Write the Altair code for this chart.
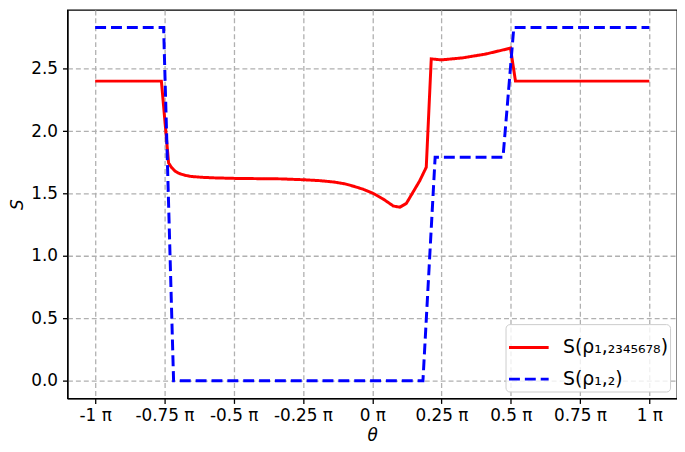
import altair as alt
import pandas as pd

# theta in units of pi
red_theta = [-1.0, -0.761, -0.735, -0.725, -0.712, -0.699, -0.675, -0.652, -0.61, -0.568,
             -0.497, -0.42, -0.33, -0.246, -0.19, -0.139, -0.1, -0.067, -0.03, 0.004, 0.04,
             0.076, 0.0995, 0.123, 0.171, 0.195, 0.213, 0.249, 0.326, 0.41, 0.499, 0.517, 1.0]
red_S = [2.40, 2.40, 1.745, 1.71, 1.68, 1.662, 1.645, 1.636, 1.629, 1.625,
         1.621, 1.619, 1.617, 1.61, 1.603, 1.592, 1.578, 1.558, 1.532, 1.50, 1.455,
         1.40, 1.39, 1.42, 1.60, 1.71, 2.578, 2.57, 2.586, 2.617, 2.664, 2.40, 2.40]

blue_theta = [-1.0, -0.753, -0.717, 0.183, 0.227, 0.472, 0.511, 1.0]
blue_S = [2.83, 2.83, 0.0, 0.0, 1.79, 1.79, 2.83, 2.83]

x_ticks = [-1, -0.75, -0.5, -0.25, 0, 0.25, 0.5, 0.75, 1]
y_ticks = [0.0, 0.5, 1.0, 1.5, 2.0, 2.5]

lab_red = "S(ρ₁,₂₃₄₅₆₇₈)"
lab_blue = "S(ρ₁,₂)"

df_red = pd.DataFrame({"theta": red_theta, "S": red_S, "series": lab_red, "i": range(len(red_theta))})
df_blue = pd.DataFrame({"theta": blue_theta, "S": blue_S, "series": lab_blue, "i": range(len(blue_theta))})

xenc = alt.X("theta:Q", scale=alt.Scale(domain=[-1.1, 1.1], nice=False, zero=False),
             axis=alt.Axis(values=x_ticks, labelExpr="datum.value + ' π'", title="θ",
                           titlePadding=4))
yenc = alt.Y("S:Q", scale=alt.Scale(domain=[-0.1415, 2.97], nice=False, zero=False),
             axis=alt.Axis(values=y_ticks, format=".1f", title="S", titlePadding=4))
color = alt.Color("series:N", scale=alt.Scale(domain=[lab_red, lab_blue], range=["#ff0000", "#0000ff"]),
                  legend=alt.Legend(title=None, orient="bottom-right", offset=7,
                                    symbolType="stroke", symbolSize=1600, symbolStrokeWidth=3,
                                    labelFontSize=19, labelFont="DejaVu Sans", labelColor="black",
                                    labelOffset=13, rowPadding=-10, padding=2,
                                    fillColor="rgba(255,255,255,0.8)", strokeColor="#cccccc",
                                    cornerRadius=4, labelLimit=300))
dash = alt.StrokeDash("series:N", scale=alt.Scale(domain=[lab_red, lab_blue], range=[[1, 0], [11, 5]]),
                      legend=None)

red = alt.Chart(df_red).mark_line(strokeWidth=3).encode(
    x=xenc, y=yenc, color=color, strokeDash=dash, order="i:Q")
blue = alt.Chart(df_blue).mark_line(strokeWidth=3).encode(
    x=xenc, y=yenc, color=color, strokeDash=dash, order="i:Q")

chart = alt.layer(red, blue).properties(
    width=615, height=392,
    padding={"left": 0, "top": 0, "right": 0, "bottom": 0},
).configure_view(stroke="black", strokeWidth=1.3).configure_axis(
    labelFont="DejaVu Sans", labelFontSize=17, labelColor="black",
    titleFont="DejaVu Sans", titleFontSize=17, titleFontStyle="italic", titleFontWeight="normal",
    titleColor="black",
    domainColor="black", domainWidth=1.3, tickColor="black", tickSize=5, tickWidth=1.3,
    labelPadding=4,
    gridColor="#b0b0b0", gridDash=[5, 3], gridWidth=1.3, gridOpacity=1,
).configure_axisY(labelPadding=5)

chart.save("out.html", embed_options={"renderer": "svg", "actions": False})
